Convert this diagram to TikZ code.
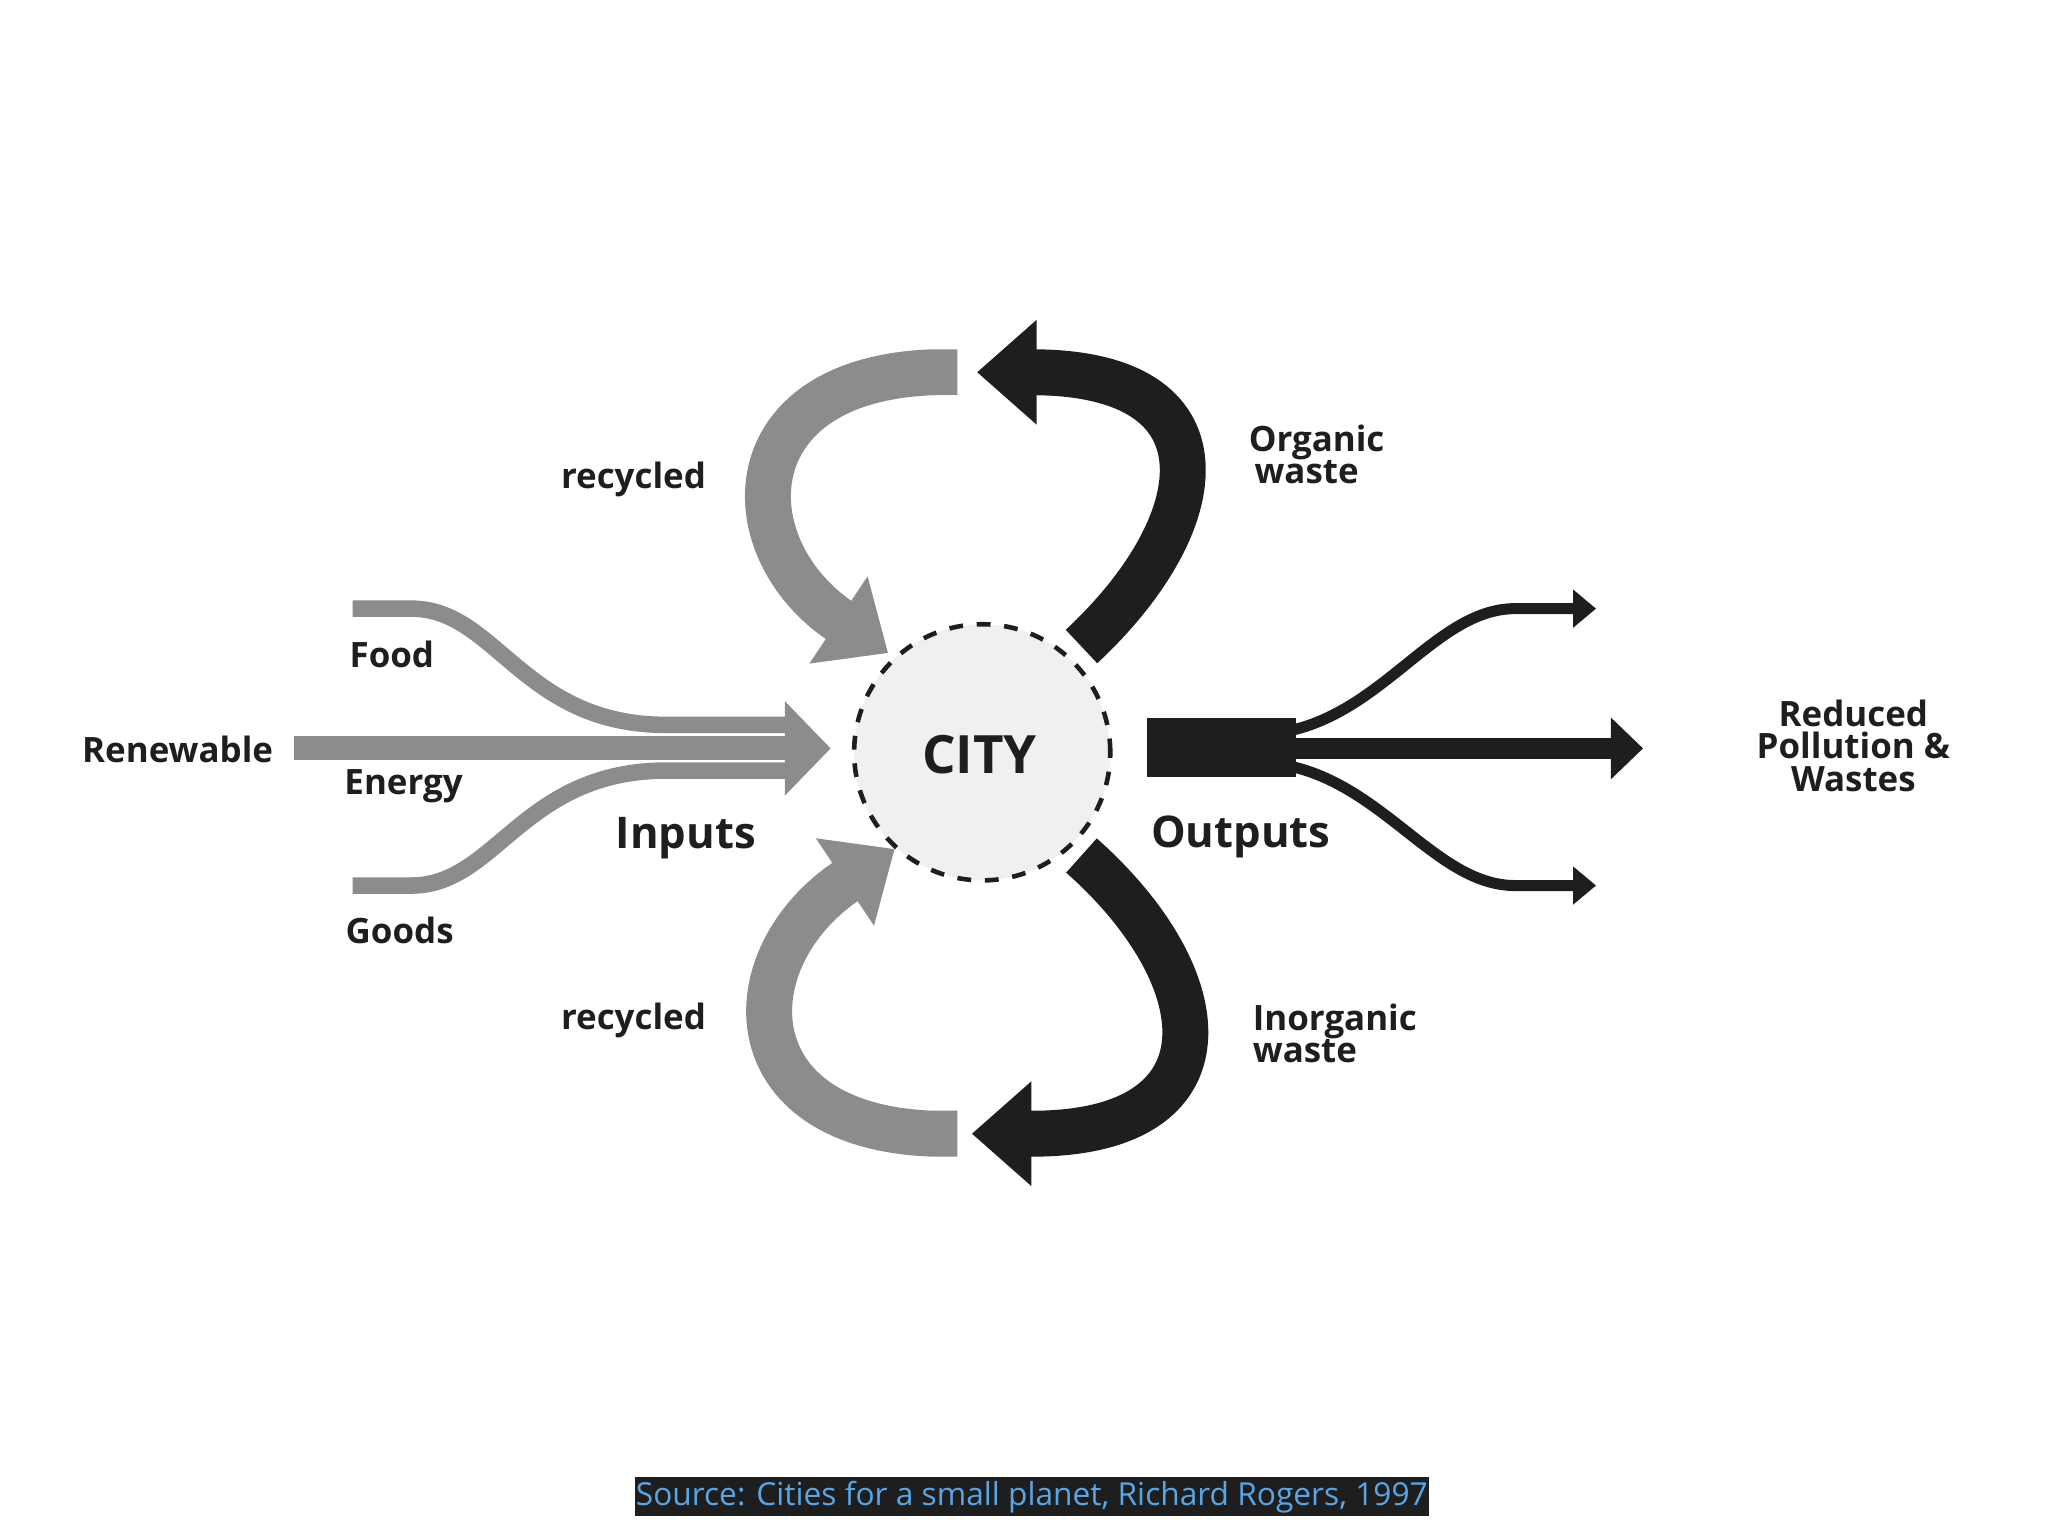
\documentclass[tikz,border=0pt]{standalone}
\usepackage{fontspec}
\setmainfont{Open Sans}
\usetikzlibrary{arrows.meta}
\definecolor{gr}{HTML}{8C8C8C}
\definecolor{bk}{HTML}{1E1E1E}
\definecolor{srcblue}{HTML}{5AA5E6}
\begin{document}
\begin{tikzpicture}[x=0.01cm,y=-0.01cm,
  lbl/.style={font=\bfseries\fontsize{7.6}{8}\selectfont, align=center, text=bk, inner sep=0pt},
  big/.style={font=\bfseries\fontsize{9.5}{10}\selectfont, text=bk, inner sep=0pt},
  loopg/.style={draw=gr, line width=10pt, -{Triangle[width=22pt,length=13pt]}},
  loopb/.style={draw=bk, line width=10pt, -{Triangle[width=22pt,length=13pt]}},
  inflow/.style={draw=gr, line width=3.6pt},
  outflow/.style={draw=bk, line width=2.4pt}]
\useasboundingbox (0,0) rectangle (1568,1176);
% city
\node[circle, minimum size=196\pgflinewidth, inner sep=0pt, minimum size=5.58cm*0+1.96cm*1, fill=black!6, draw=bk, dashed, line width=1pt] (city) at (752,576) {};
\node[font=\bfseries\fontsize{11.5}{12}\selectfont, text=bk] (cityl) at (750,578) {CITY};
% inputs
\coordinate (f0) at (270,466); \coordinate (g0) at (270,678);
\coordinate (e0) at (225,573); \coordinate (e1) at (636,573);
\draw[inflow] (f0) -- (315,466) .. controls (380,466) and (400,555) .. (510,555) -- (610,555);
\draw[inflow] (g0) -- (315,678) .. controls (380,678) and (400,590) .. (510,590) -- (610,590);
\draw[draw=gr, line width=5.2pt, -{Triangle[width=20pt,length=10pt]}] (e0) -- (e1);
% outputs
\coordinate (o0) at (878,572); \coordinate (o1) at (1258,573);
\coordinate (ou) at (1222,466); \coordinate (od) at (1222,678);
\fill[bk] (878,550) rectangle (992,595);
\draw[draw=bk, line width=4.6pt, -{Triangle[width=13pt,length=7pt]}] (985,573) -- (o1);
\draw[outflow, -{Triangle[width=8pt,length=5pt]}] (985,560) .. controls (1060,545) and (1100,466) .. (1160,466) -- (ou);
\draw[outflow, -{Triangle[width=8pt,length=5pt]}] (985,586) .. controls (1060,601) and (1100,678) .. (1160,678) -- (od);
% loops
\coordinate (tg0) at (733,285); \coordinate (tg1) at (680,500);
\draw[loopg] (tg0) -- (715,285) .. controls (560,290) and (560,420) .. (tg1);
\coordinate (tb0) at (828,495); \coordinate (tb1) at (748,285);
\draw[loopb] (tb0) .. controls (930,400) and (945,285) .. (790,285) -- (tb1);
\coordinate (bg0) at (733,868); \coordinate (bg1) at (685,650);
\draw[loopg] (bg0) -- (715,868) .. controls (560,863) and (560,733) .. (bg1);
\coordinate (bb0) at (828,655); \coordinate (bb1) at (744,868);
\draw[loopb] (bb0) .. controls (935,750) and (945,868) .. (790,868) -- (bb1);
% labels
\node[lbl] (l1) at (485,367) {recycled};
\node[lbl] (l2) at (485,781) {recycled};
\node[lbl, align=left] (l3) at (1008,348) {Organic\\[-1pt]\,waste};
\node[lbl, align=left] (l4) at (1022,791) {Inorganic\\[-1pt]waste};
\node[lbl] (l5) at (300,501) {Food};
\node[lbl] (l6) at (136,574) {Renewable};
\node[lbl] (l7) at (309,602) {Energy};
\node[lbl] (l8) at (306,712) {Goods};
\node[big] (l9) at (525,642) {Inputs};
\node[big] (l10) at (950,641) {Outputs};
\node[lbl] (l11) at (1419,571) {Reduced\\[-1pt]Pollution \&\\[-1pt]Wastes};
\fill[bk] (486,1131) rectangle (1094,1161);
\node[text=srcblue, font=\fontsize{6.9}{7}\selectfont, inner sep=0pt] (src) at (790,1146) {Source: Cities for a small planet, Richard Rogers, 1997};
\end{tikzpicture}
\end{document}
